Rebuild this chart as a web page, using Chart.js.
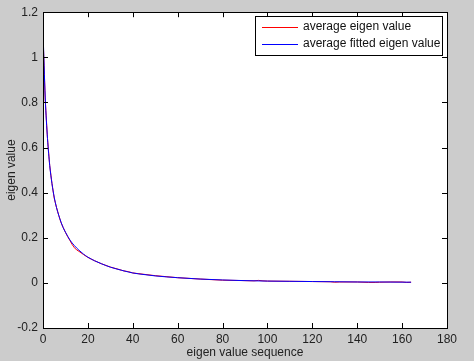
<!DOCTYPE html>
<html><head><meta charset="utf-8">
<script src="https://cdn.jsdelivr.net/npm/chart.js@4/dist/chart.umd.min.js"></script>
<style>html,body{margin:0;padding:0;background:#cccccc;}#wrap{width:474px;height:361px;}</style>
</head><body><div id="wrap"><canvas id="c" width="474" height="361"></canvas></div>
<script>
const seriesNames = ['average eigen value', 'average fitted eigen value'];
const seriesColors = ['#ff0000', '#0000ff'];
const avgX = [0,1,2,3,4,5,6,7,8,9,10,11,12,13,14,15,16,18,20,23,26,30,33,36,38,40,45,50,60,70,80,90,94,96,98,100,110,120,128,130,132,140,145,148,150,155,160,162,164];
const avgY = [1.10,0.81,0.64,0.52,0.44,0.375,0.335,0.30,0.268,0.245,0.224,0.205,0.188,0.17,0.156,0.146,0.14,0.126,0.113,0.098,0.085,0.07,0.062,0.053,0.05,0.044,0.038,0.032,0.023,0.017,0.012,0.01,0.009,0.011,0.009,0.008,0.007,0.006,0.005,0.003,0.004,0.004,0.002,0.002,0.003,0.004,0.004,0.002,0.003];
const fitX = [0,1,2,3,4,5,6,7,8,9,10,12,14,16,18,20,23,26,30,35,40,45,50,60,70,80,90,100,110,120,130,140,150,164];
const fitY = [1.12,0.82,0.64,0.52,0.44,0.38,0.335,0.30,0.27,0.245,0.225,0.19,0.165,0.145,0.128,0.114,0.098,0.085,0.07,0.056,0.044,0.037,0.031,0.023,0.017,0.013,0.01,0.008,0.007,0.006,0.005,0.004,0.004,0.003];
const xTicks = [0,20,40,60,80,100,120,140,160,180];
const yTicks = [-0.2,0,0.2,0.4,0.6,0.8,1,1.2];
const xTitle = 'eigen value sequence';
const yTitle = 'eigen value';
const FONT = '"Liberation Sans", Arial, sans-serif';

const frame = {
  id: 'frame',
  afterDraw(chart) {
    const {ctx, chartArea: a, scales: {x, y}} = chart;
    ctx.save();
    ctx.strokeStyle = '#000'; ctx.lineWidth = 1;
    ctx.strokeRect(Math.round(a.left) + 0.5, Math.round(a.top) + 0.5, Math.round(a.right - a.left), Math.round(a.bottom - a.top));
    const L = 5;
    ctx.beginPath();
    xTicks.forEach(v => {
      const px = Math.round(x.getPixelForValue(v)) + 0.5;
      ctx.moveTo(px, a.bottom); ctx.lineTo(px, a.bottom - L);
      ctx.moveTo(px, a.top); ctx.lineTo(px, a.top + L);
    });
    yTicks.forEach(v => {
      const py = Math.round(y.getPixelForValue(v)) + 0.5;
      ctx.moveTo(a.left, py); ctx.lineTo(a.left + L, py);
      ctx.moveTo(a.right, py); ctx.lineTo(a.right - L, py);
    });
    ctx.stroke();
    ctx.fillStyle = '#222';
    ctx.font = '12px ' + FONT;
    ctx.textAlign = 'center'; ctx.textBaseline = 'middle';
    ctx.fillText(xTitle, (a.left + a.right) / 2, 353);
    ctx.translate(12, (a.top + a.bottom) / 2);
    ctx.rotate(-Math.PI / 2);
    ctx.fillText(yTitle, 0, 0);
    ctx.restore();
    // legend
    ctx.save();
    const lx = 255, ly = 16, lw = 187, lh = 39;
    ctx.fillStyle = '#fff';
    ctx.fillRect(lx, ly, lw, lh);
    ctx.strokeStyle = '#000'; ctx.lineWidth = 1;
    ctx.strokeRect(lx + 0.5, ly + 0.5, lw, lh);
    ctx.font = '12px ' + FONT;
    ctx.textAlign = 'left'; ctx.textBaseline = 'middle';
    seriesNames.forEach((name, i) => {
      const yy = Math.round(ly + 11 + i * 16.5);
      ctx.fillStyle = seriesColors[i];
      ctx.fillRect(262, yy, 36, 1);
      ctx.fillStyle = '#111';
      ctx.fillText(name, 303, yy);
    });
    ctx.restore();
  }
};

new Chart(document.getElementById('c'), {
  type: 'line',
  data: {
    datasets: [
      {label: seriesNames[0], order: 1, data: avgX.map((v, i) => ({x: v, y: avgY[i]})), borderColor: seriesColors[0], borderWidth: 1, pointRadius: 0, fill: false, tension: 0},
      {label: seriesNames[1], order: 0, data: fitX.map((v, i) => ({x: v, y: fitY[i]})), borderColor: seriesColors[1], borderWidth: 1, pointRadius: 0, fill: false, cubicInterpolationMode: 'monotone'}
    ]
  },
  options: {
    responsive: false, animation: false, devicePixelRatio: 1,
    layout: {padding: {left: 0, top: 10, right: 27, bottom: 0}},
    plugins: {legend: {display: false}, tooltip: {enabled: false}},
    scales: {
      x: {
        type: 'linear', min: 0, max: 180,
        afterFit(s) { s.height = 33; },
        afterBuildTicks(s) { s.ticks = xTicks.map(v => ({value: v})); },
        grid: {display: false, drawTicks: false},
        border: {display: false},
        ticks: {padding: 4, color: '#222', font: {family: FONT, size: 12}, maxRotation: 0, callback: v => String(v)}
      },
      y: {
        type: 'linear', min: -0.2, max: 1.2,
        afterFit(s) { s.width = 43; },
        afterBuildTicks(s) { s.ticks = yTicks.map(v => ({value: v})); },
        grid: {display: false, drawTicks: false},
        border: {display: false},
        ticks: {padding: 5, color: '#222', font: {family: FONT, size: 12}, callback: v => String(+v.toFixed(1))}
      }
    }
  },
  plugins: [{id: 'bg', beforeDraw(c) { const {ctx, chartArea: a} = c; ctx.save(); ctx.fillStyle = '#cccccc'; ctx.fillRect(0, 0, c.width, c.height); ctx.fillStyle = '#fff'; ctx.fillRect(a.left, a.top, a.right - a.left, a.bottom - a.top); ctx.restore(); }}, frame]
});
</script></body></html>
